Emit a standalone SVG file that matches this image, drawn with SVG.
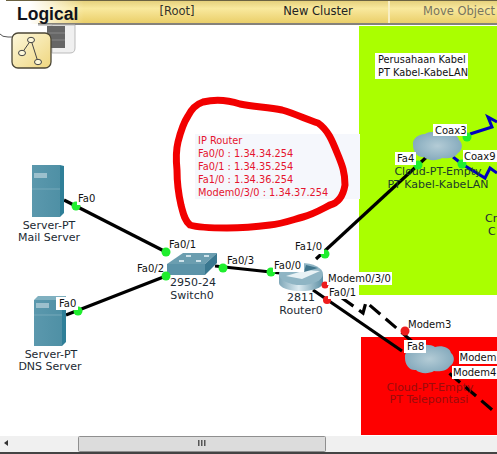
<svg xmlns="http://www.w3.org/2000/svg" width="497" height="454" viewBox="0 0 497 454">
<defs>
<style>
text{font-family:"DejaVu Sans","Liberation Sans",sans-serif;font-size:11px;fill:#1c2a33}
.lbl{font-size:10px;fill:#111}
.note{font-size:9.800px;fill:#e5142e}
.c{text-anchor:middle}
.wire{stroke:#000;stroke-width:3.200;fill:none}
.coax{stroke:#0000c0;stroke-width:3;fill:none}
.up{fill:#1fee2e}
.dn{fill:#ee1c1c}
.tab{fill:#fff}
</style>
<linearGradient id="bar" x1="0" y1="0" x2="0" y2="1"><stop offset="0" stop-color="#e3cd78"/><stop offset=".35" stop-color="#f9e99e"/><stop offset="1" stop-color="#e9cd66"/></linearGradient>
<linearGradient id="fade" x1="0" y1="0" x2="1" y2="0"><stop offset="0" stop-color="#fff"/><stop offset=".35" stop-color="#fff"/><stop offset="1" stop-color="#fff" stop-opacity="0"/></linearGradient>
<linearGradient id="barh" x1="0" y1="0" x2="1" y2="1"><stop offset="0" stop-color="#fdf8dc"/><stop offset="1" stop-color="#efd67e"/></linearGradient>
<linearGradient id="srv" x1="0" y1="0" x2="1" y2="0"><stop offset="0" stop-color="#5b98ad"/><stop offset="1" stop-color="#4f90a5"/></linearGradient>
<linearGradient id="rt" x1="0" y1="0" x2="1" y2="0"><stop offset="0" stop-color="#7fa7b8"/><stop offset=".45" stop-color="#dbeaf0"/><stop offset="1" stop-color="#5b8ea3"/></linearGradient>
<radialGradient id="cl" cx=".5" cy=".5" r=".6"><stop offset="0" stop-color="#b4ccd6"/><stop offset="1" stop-color="#7ea5b9"/></radialGradient>
<path id="cloud" d="M-24 -1C-25 -7 -19 -12 -12 -12C-8 -15 2 -15 6 -12C12 -14 21 -12 22 -6C26 -3 26 4 21 7C18 12 10 13 5 12C0 15 -9 15 -13 11C-19 12 -24 6 -24 -1Z"/>
</defs>
<rect width="497" height="454" fill="#fff"/>
<g id="toolbar">
<rect x="0" y="0" width="497" height="24" fill="url(#bar)"/>
<rect x="0" y="0" width="84" height="24" fill="url(#fade)"/>
<rect x="6" y="0" width="491" height="1" fill="#6b6242"/>
<rect x="38" y="23" width="459" height="2" fill="#85827a"/>
<rect x="388" y="1" width="2" height="22" fill="#f8efc4"/>
<path d="M38 25H75V48Q75 53 70 53H52V25Z" fill="#f0f0f0" stroke="#bbb"/>
<rect x="47" y="26" width="18" height="22" fill="#666"/>
<path d="M47 33H65M47 40H65" stroke="#888" stroke-width="1"/>
<path d="M0 34Q2 37 8 37H12" fill="none" stroke="#555"/>
<rect x="12" y="33" width="39" height="35" rx="6" fill="url(#barh)" stroke="#4c4736" stroke-width="1.300"/>
<path d="M31 40L22 53M31 40L38 62" fill="none" stroke="#444" stroke-width="1"/>
<ellipse cx="31" cy="40" rx="3.500" ry="2.700" fill="#fdf8da" stroke="#444"/>
<ellipse cx="22" cy="53" rx="3.500" ry="2.700" fill="#fdf8da" stroke="#444"/>
<ellipse cx="38" cy="62" rx="3.500" ry="2.700" fill="#fdf8da" stroke="#444"/>
<text x="17" y="20" style="font-family:'Liberation Sans',sans-serif;font-size:17.500px;font-weight:bold;fill:#10131c">Logical</text>
<text x="177" y="15" class="c" style="font-size:11.500px;fill:#33322a">[Root]</text>
<text x="318" y="15" class="c" style="font-size:11.500px;fill:#222">New Cluster</text>
<text x="459" y="15" class="c" style="font-size:11.500px;fill:#77745f">Move Object</text>
</g>
<rect id="zone-kabel" x="359" y="26" width="138" height="269" fill="#aaff00"/>
<rect id="zone-telepon" x="361" y="337" width="136" height="98" fill="#fe0000"/>
<g id="note-kabel">
<rect x="375" y="53" width="93" height="26" fill="#fff"/>
<text x="378" y="63" style="font-size:9.800px;fill:#111">Perusahaan Kabel</text>
<text x="378" y="76" style="font-size:9.800px;fill:#111">PT Kabel-KabeLAN</text>
</g>
<g id="note-router">
<rect x="195" y="134" width="165" height="65" fill="#f5f7fc"/>
<path d="M203 102C215 99 228 100 240 104C255 107 268 107 282 110C296 114 308 120 318 123C328 130 332 140 338 155C342 165 345 172 345 185C343 197 338 203 330 205C322 209 314 214 303 217C292 220 282 224 270 225C255 227 240 228 227 228C212 228 200 228 190 225C184 220 183 212 181 205C178 192 177 180 177 170C176 160 176 150 178 142C181 130 184 122 188 116C192 108 197 104 203 102Z" fill="none" stroke="#f20000" stroke-width="7" stroke-linejoin="round"/>
<text x="198" y="144" class="note">IP Router</text>
<text x="198" y="157" class="note">Fa0/0 : 1.34.34.254</text>
<text x="198" y="170" class="note">Fa0/1 : 1.34.35.254</text>
<text x="198" y="183" class="note">Fa1/0 : 1.34.36.254</text>
<text x="198" y="196" class="note">Modem0/3/0 : 1.34.37.254</text>
</g>
<g id="connectors">
<path class="wire" d="M64 200L166 252"/>
<path class="wire" d="M66 315L166 276"/>
<path class="wire" d="M215 266L280 273"/>
<path class="wire" d="M316 259L432 152"/>
<path class="wire" d="M313 290L402 351"/>
<path class="wire" stroke-dasharray="14 7" stroke-width="3.500" d="M342 298L363 313L366 302L497 414"/>
<path class="coax" d="M470 134L492 127L488 117L497 122"/>
<path class="coax" d="M453 157L462 164L485 178L490 168L497 173"/>
</g>
<g id="mail-server">
<path d="M60 165L64 166V213L60 217Z" fill="#2f7f98"/>
<rect x="32" y="165" width="28" height="52" fill="url(#srv)"/>
<rect x="34" y="173" width="13" height="5" fill="#9cc0cd"/>
<path d="M32 189H60" stroke="#77a9ba"/>
<text x="49" y="229" class="c">Server-PT</text>
<text x="49" y="241" class="c">Mail Server</text>
</g>
<g id="dns-server">
<path d="M34 300L38 296H66L62 300Z" fill="#7fb0c0"/>
<path d="M62 300L66 296V342L62 346Z" fill="#2f7f98"/>
<rect x="34" y="300" width="28" height="46" fill="url(#srv)"/>
<rect x="36" y="303" width="13" height="5" fill="#9cc0cd"/>
<path d="M34 315H62" stroke="#77a9ba"/>
<text x="51" y="358" class="c">Server-PT</text>
<text x="50" y="370" class="c">DNS Server</text>
</g>
<g id="switch0">
<path d="M167 264L183 253H217L205 264Z" fill="#6b9eb0"/>
<rect x="167" y="264" width="38" height="11" fill="#5b93a8"/>
<path d="M205 264L217 253V263L205 275Z" fill="#3a7890"/>
<g fill="#cde2ea"><rect x="186" y="255" width="5" height="2"/><rect x="204" y="255" width="5" height="2"/><rect x="179" y="260" width="5" height="2"/><rect x="196" y="260" width="5" height="2"/></g>
<text x="193" y="286" class="c">2950-24</text>
<text x="192" y="299" class="c">Switch0</text>
</g>
<g id="router0">
<ellipse cx="301" cy="283" rx="22" ry="8" fill="url(#rt)"/>
<rect x="279" y="274" width="44" height="9" fill="url(#rt)"/>
<ellipse cx="301" cy="274" rx="22" ry="11" fill="#8fb5c4"/>
<path d="M286 276L306 270L320 271L302 279Z" fill="#e8f2f5"/>
<path d="M306 265L318 268L304 272Z" fill="#40768d"/>
<text x="301" y="301" class="c">2811</text>
<text x="301" y="314" class="c">Router0</text>
</g>
<g id="cloud-kabel">
<use href="#cloud" x="437" y="146" fill="url(#cl)"/>
<text x="438" y="175" class="c" style="fill:#1b3d2a">Cloud-PT-Empty</text>
<text x="438" y="188" class="c" style="fill:#1b3d2a">PT Kabel-KabeLAN</text>
</g>
<g id="cloud-telepon">
<use href="#cloud" x="429" y="359" fill="url(#cl)"/>
<text x="430" y="391" class="c" style="fill:#9a0c0c">Cloud-PT-Empty</text>
<text x="429" y="403" class="c" style="fill:#9a0c0c">PT Telepontasi</text>
</g>
<g id="cut-label">
<text x="485" y="222">Cr</text>
<text x="488" y="235">C</text>
</g>
<g id="port-dots">
<circle class="up" cx="76" cy="206" r="4.500"/>
<circle class="up" cx="78" cy="311" r="4.500"/>
<circle class="up" cx="166" cy="252" r="4.500"/>
<circle class="up" cx="166" cy="276" r="4.500"/>
<circle class="up" cx="223" cy="268" r="4.500"/>
<circle class="up" cx="271" cy="272" r="4.500"/>
<circle class="up" cx="325" cy="254" r="4.500"/>
<circle class="up" cx="418" cy="165" r="4.500"/>
<circle class="up" cx="467" cy="137" r="4.500"/>
<circle class="up" cx="462" cy="164" r="4.500"/>
<circle class="dn" cx="327" cy="300" r="4"/>
<circle class="dn" cx="325" cy="285" r="3.500"/>
<circle class="dn" cx="405" cy="331" r="4.500"/>
</g>
<g id="port-labels">
<rect x="77" y="192" width="20" height="13" class="tab"/><text x="78" y="202" class="lbl">Fa0</text>
<rect x="56" y="297" width="22" height="13" class="tab"/><text x="59" y="307" class="lbl">Fa0</text>
<text x="169" y="248" class="lbl">Fa0/1</text>
<text x="137" y="272" class="lbl">Fa0/2</text>
<text x="227" y="264" class="lbl">Fa0/3</text>
<rect x="273" y="259" width="31" height="13" class="tab"/><text x="274" y="269" class="lbl">Fa0/0</text>
<rect x="294" y="241" width="30" height="13" class="tab"/><text x="295" y="250" class="lbl">Fa1/0</text>
<rect x="327" y="272" width="65" height="13" class="tab"/><text x="328" y="282" class="lbl">Modem0/3/0</text>
<rect x="328" y="286" width="31" height="13" class="tab"/><text x="329" y="296" class="lbl">Fa0/1</text>
<text x="408" y="328" class="lbl">Modem3</text>
<rect x="404" y="340" width="22" height="13" class="tab"/><text x="407" y="350" class="lbl">Fa8</text>
<rect x="459" y="351" width="38" height="13" class="tab"/><text x="459.500" y="361" class="lbl">Modem</text>
<rect x="452" y="366" width="45" height="13" class="tab"/><text x="453" y="376" class="lbl">Modem4</text>
<rect x="395" y="152" width="21" height="13" class="tab"/><text x="397" y="162" class="lbl">Fa4</text>
<rect x="433" y="124" width="34" height="12" class="tab"/><text x="435" y="134" class="lbl">Coax3</text>
<rect x="463" y="150" width="34" height="12" class="tab"/><text x="464" y="160" class="lbl">Coax9</text>
</g>
<g id="scrollbar">
<rect x="0" y="436" width="497" height="16" fill="#f0f0f0"/>
<rect x="0" y="452" width="497" height="2" fill="#444"/>
<rect x="78.500" y="436.500" width="247" height="15" rx="1" fill="#dcdcdc" stroke="#8f8f8f"/>
<rect x="198" y="440" width="1.500" height="6" fill="#555"/><rect x="201" y="440" width="1.500" height="6" fill="#555"/><rect x="204" y="440" width="1.500" height="6" fill="#555"/>
<path d="M4 443L8 440V446Z" fill="#333"/>
</g>
</svg>
